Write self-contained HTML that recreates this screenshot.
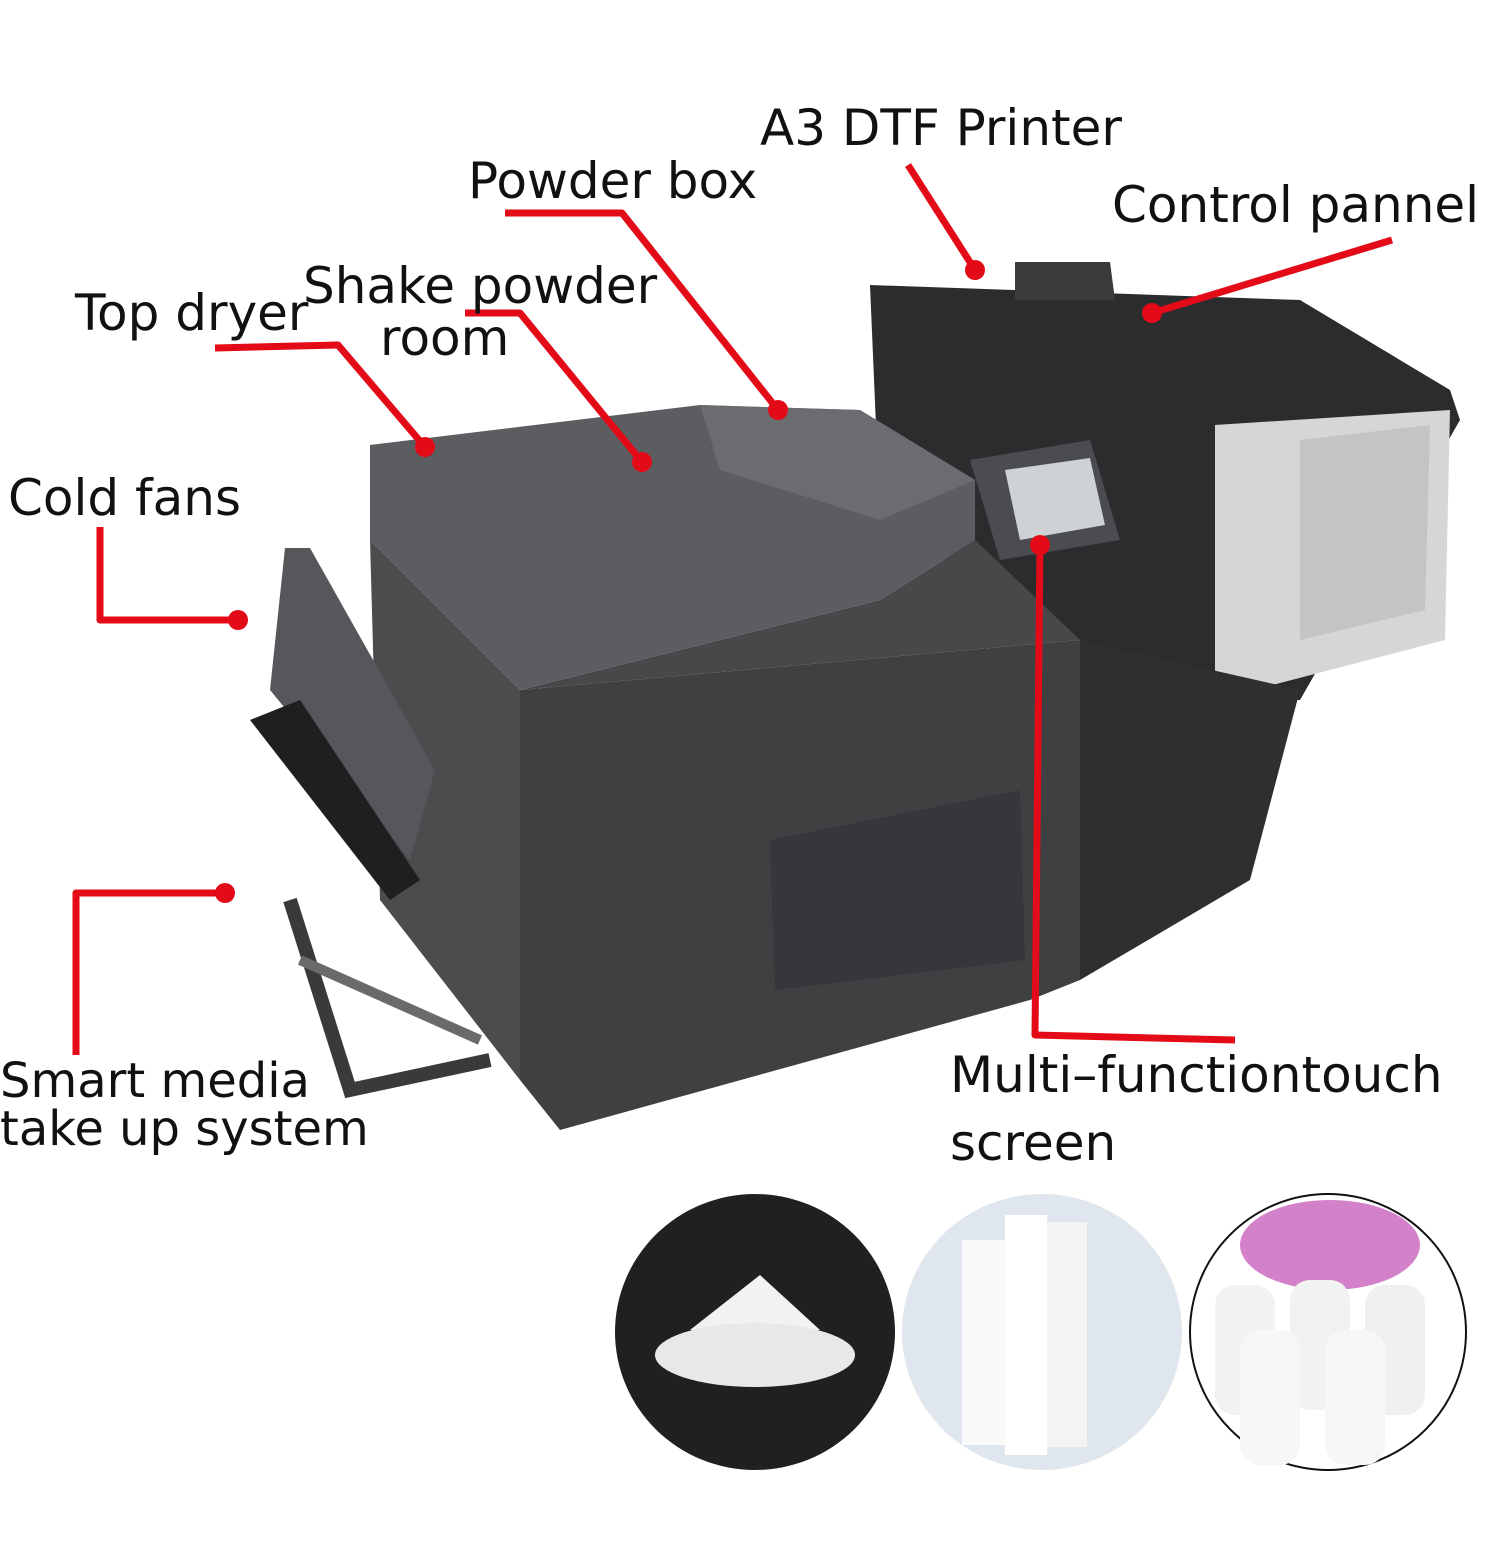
<!DOCTYPE html>
<html><head><meta charset="utf-8"><style>
html,body{margin:0;padding:0;background:#fff;}
svg{display:block;}
text{font-family:"DejaVu Sans","Liberation Sans",sans-serif;fill:#111;}
</style></head><body>
<svg width="1500" height="1561" viewBox="0 0 1500 1561">
<!-- printer (rear) -->
<polygon points="870,285 1300,300 1450,390 1460,420 1300,700 1210,700 1080,640 880,520" fill="#2b2c2e"/>
<polygon points="1015,262 1110,262 1115,300 1015,300" fill="#3a3b3d"/>
<polygon points="1215,425 1450,410 1445,640 1215,700" fill="#d6d6d6"/>
<polygon points="1300,440 1430,425 1425,610 1300,640" fill="#c4c4c4"/>
<polygon points="1080,640 1300,690 1250,880 1080,980" fill="#2e2f31"/>
<!-- fill between dryer and body -->
<polygon points="520,690 880,600 975,540 1080,640" fill="#46484a"/>
<!-- dryer top -->
<polygon points="370,445 700,405 860,410 975,480 975,540 880,600 520,690 370,540" fill="#5b5d60"/>
<polygon points="700,405 860,410 975,480 880,520 720,470" fill="#6a6c6f"/>
<!-- dryer front/body -->
<polygon points="370,540 520,690 520,1080 380,900" fill="#4a4c4e"/>
<polygon points="520,690 1080,640 1080,980 1030,1000 560,1130 520,1080" fill="#3e4042"/>
<polygon points="770,840 1020,790 1025,960 775,990" fill="#35373a"/>
<!-- touch screen -->
<polygon points="970,460 1090,440 1120,540 1000,560" fill="#4a4c4f"/>
<polygon points="1005,470 1090,458 1105,525 1020,540" fill="#cfd2d4"/>
<!-- fan arm & take-up -->
<polygon points="285,548 310,548 435,770 410,860 270,690" fill="#55575a"/>
<polygon points="250,720 300,700 420,880 390,900" fill="#1e1f20"/>
<polyline points="290,900 350,1090 490,1060" fill="none" stroke="#3a3a3a" stroke-width="14"/>
<line x1="300" y1="960" x2="480" y2="1040" stroke="#6a6a6a" stroke-width="10"/>
<!-- red leaders -->
<g stroke="#e30b17" stroke-width="7" fill="none" stroke-linejoin="round">
<polyline points="908,165 975,270"/>
<polyline points="505,213 622,213 778,410"/>
<polyline points="1392,240 1152,313"/>
<polyline points="215,348 338,345 425,447"/>
<polyline points="465,313 520,313 642,462"/>
<polyline points="100,527 100,620 238,620"/>
<polyline points="76,1055 76,893 225,893"/>
<polyline points="1040,545 1035,1035 1235,1040"/>
</g>
<g fill="#e30b17">
<circle cx="975" cy="270" r="10"/><circle cx="778" cy="410" r="10"/><circle cx="1152" cy="313" r="10"/>
<circle cx="425" cy="447" r="10"/><circle cx="642" cy="462" r="10"/><circle cx="238" cy="620" r="10"/>
<circle cx="225" cy="893" r="10"/><circle cx="1040" cy="545" r="10"/>
</g>
<!-- labels -->
<g font-size="50">
<text x="760" y="145">A3 DTF Printer</text>
<text x="468" y="198">Powder box</text>
<text x="1112" y="222">Control pannel</text>
<text x="75" y="330">Top dryer</text>
<text x="303" y="303">Shake powder</text>
<text x="380" y="355">room</text>
<text x="8" y="515">Cold fans</text>
<text x="950" y="1092">Multi–functiontouch</text>
<text x="950" y="1160">screen</text>
</g>
<g font-size="48">
<text x="0" y="1097">Smart media</text>
<text x="0" y="1145">take up system</text>
</g>
<!-- bottom circles -->
<ellipse cx="755" cy="1332" rx="140" ry="138" fill="#1f2021"/>
<polygon points="690,1330 760,1275 820,1330" fill="#f2f2f2"/>
<ellipse cx="755" cy="1355" rx="100" ry="32" fill="#e8e8e8"/>
<ellipse cx="1042" cy="1332" rx="140" ry="138" fill="#dfe6ee"/>
<rect x="962" y="1240" width="45" height="205" fill="#fafafa"/>
<rect x="1005" y="1215" width="42" height="240" fill="#ffffff"/>
<rect x="1047" y="1222" width="40" height="225" fill="#f4f4f4"/>
<ellipse cx="1328" cy="1332" rx="138" ry="138" fill="#fff" stroke="#111" stroke-width="2"/>
<ellipse cx="1330" cy="1245" rx="90" ry="45" fill="#c14bb0" opacity="0.7"/>
<rect x="1215" y="1285" width="60" height="130" rx="20" fill="#f2f2f2"/>
<rect x="1290" y="1280" width="60" height="130" rx="20" fill="#f2f2f2"/>
<rect x="1365" y="1285" width="60" height="130" rx="20" fill="#f0f0f0"/>
<rect x="1240" y="1330" width="60" height="135" rx="20" fill="#f7f7f7"/>
<rect x="1325" y="1330" width="60" height="135" rx="20" fill="#f7f7f7"/>
</svg>
</body></html>
